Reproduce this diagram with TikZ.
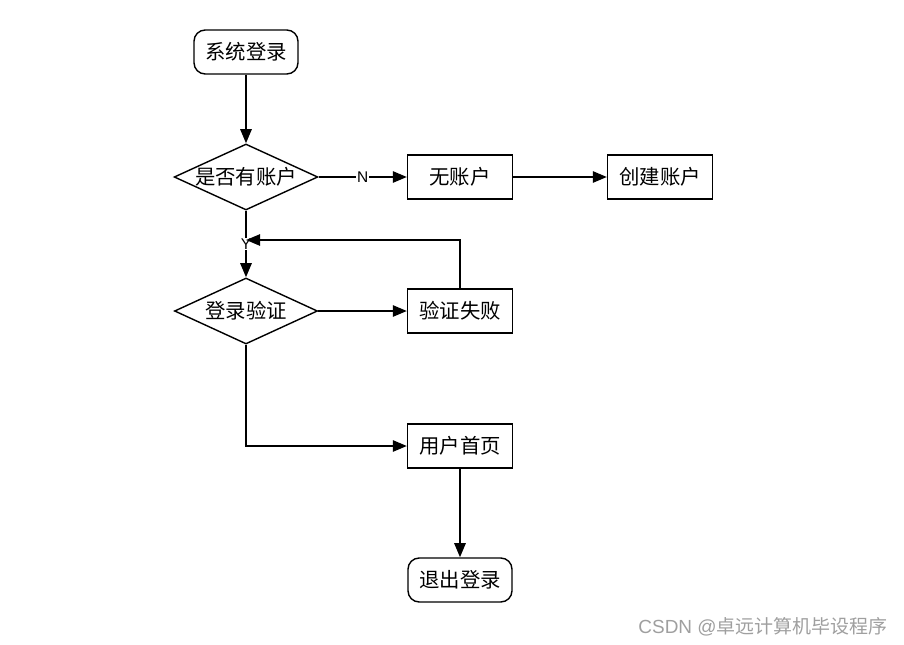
\documentclass[tikz,border=0pt]{standalone}
\usepackage{fontspec}
\setmainfont{Liberation Sans}
\newfontfamily\cjk{Noto Sans CJK SC}
\usetikzlibrary{shapes.geometric, arrows.meta, positioning, calc}

\begin{document}
\begin{tikzpicture}[
  x=0.025cm, y=-0.025cm,
  term/.style={draw, line width=1pt, rounded corners=8pt, minimum width=2.6cm, minimum height=1.1cm, inner sep=0pt, font=\cjk\fontsize{14.5}{16}\selectfont},
  proc/.style={draw, line width=1pt, minimum width=2.62cm, minimum height=1.1cm, inner sep=0pt, font=\cjk\fontsize{14.5}{16}\selectfont},
  dec/.style={draw, diamond, aspect=2.2, line width=1pt, minimum width=3.575cm, minimum height=1.65cm, inner sep=0pt, font=\cjk\fontsize{14.5}{16}\selectfont},
  arr/.style={-{Triangle[length=10pt, width=8pt]}, line width=1.4pt},
  lbl/.style={fill=white, inner sep=0.6pt, font=\fontsize{11}{12}\selectfont},
]
  \useasboundingbox (0,0) rectangle (904,645);
  % nodes
  \node[term] (start) at (246, 52) {系统登录};
  \node[dec] (hasacc) at (246, 177) {是否有账户};
  \node[proc] (noacc) at (460, 177) {无账户};
  \node[proc] (create) at (660, 177) {创建账户};
  \node[dec] (verify) at (246, 311) {登录验证};
  \node[proc] (fail) at (460, 311) {验证失败};
  \node[proc] (home) at (460, 446) {用户首页};
  \node[term] (logout) at (460, 580) {退出登录};
  \coordinate (back) at (246, 240);
  % connectors
  \draw[arr] (start) -- (hasacc);
  \draw[arr] (hasacc) -- node[lbl] {N} (noacc);
  \draw[arr] (noacc) -- (create);
  \draw[arr] (hasacc) -- node[lbl, pos=0.5] {Y} (verify);
  \draw[arr] (verify) -- (fail);
  \draw[arr] (fail.north) |- (back);
  \draw[arr] (verify.south) |- (home.west);
  \draw[arr] (home) -- (logout);
  % watermark
  \node[text=gray!75, font=\fontsize{13.5}{15}\selectfont] (mark) at (763, 627) {CSDN @{\cjk 卓远计算机毕设程序}};
\end{tikzpicture}
\end{document}
